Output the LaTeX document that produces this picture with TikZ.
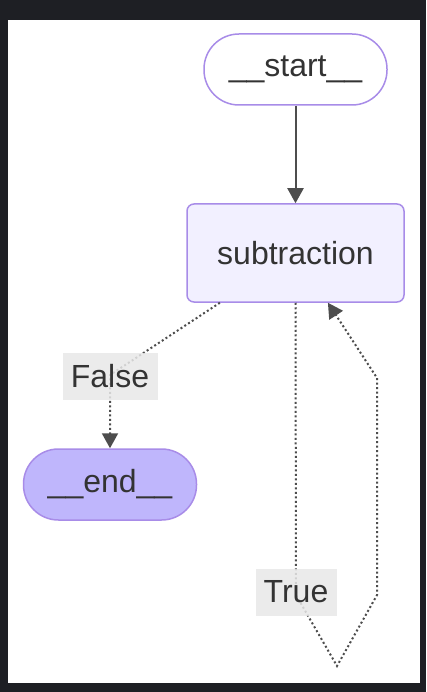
\documentclass[tikz,border=0pt]{standalone}
\usepackage{fontspec}
\setmainfont{Liberation Sans}
\usetikzlibrary{arrows.meta, positioning}
\definecolor{framedark}{RGB}{30, 31, 36}
\definecolor{nodeborder}{RGB}{168, 140, 232}
\definecolor{nodefill}{HTML}{F2F0FF}
\definecolor{endfill}{HTML}{BFB6FC}
\definecolor{labelfill}{HTML}{E8E8E8}
\definecolor{textgray}{HTML}{333333}
\definecolor{edgegray}{HTML}{4D4D4D}

\begin{document}
\begin{tikzpicture}[x=1pt, y=-1pt,
    graphnode/.style={draw=nodeborder, line width=1.5pt, text=textgray, inner sep=0pt,
        font=\fontsize{32}{38}\selectfont},
    pill/.style={graphnode, rounded corners=35pt, minimum height=71pt},
    edgelabel/.style={fill=labelfill, fill opacity=0.85, text opacity=1, text=textgray,
        inner sep=0pt, minimum height=47pt, font=\fontsize{32}{38}\selectfont},
    mainedge/.style={draw=edgegray, line width=2pt, -{Triangle[length=15pt, width=16pt]}},
    condedge/.style={draw=edgegray, line width=2pt, dash pattern=on 2pt off 2.5pt,
        -{Triangle[length=15pt, width=16pt]}}]
    % Frame
    \useasboundingbox (0,0) rectangle (426,692);
    \fill[framedark] (0,0) rectangle (426,692);
    \fill[white] (8,20) rectangle (420,683);

    % Nodes
    \node[pill, fill=white, minimum width=183pt] (start) at (295.5,69.5) {\_\_start\_\_};
    \node[graphnode, fill=nodefill, rounded corners=7pt, minimum width=217pt, minimum height=98pt] (sub) at (295.5,253) {subtraction};
    \node[pill, fill=endfill, minimum width=173pt] (end) at (110,484.5) {\_\_end\_\_};

    % Bend points
    \coordinate (fbend) at (110,375);
    \coordinate (tleft) at (296,595);
    \coordinate (tbot) at (337,666);
    \coordinate (tright) at (377,595);
    \coordinate (tup) at (377,378);

    % Edges
    \draw[mainedge] (start) -- (sub);
    \draw[condedge] (sub) -- (fbend) -- (end);
    \draw[condedge] (sub.south) -- (tleft) -- (tbot) -- (tright) -- (tup) -- (sub);

    % Edge labels
    \node[edgelabel, minimum width=95pt] (lfalse) at (110,376) {False};
    \node[edgelabel, minimum width=81pt] (ltrue) at (296,592) {True};
\end{tikzpicture}
\end{document}
